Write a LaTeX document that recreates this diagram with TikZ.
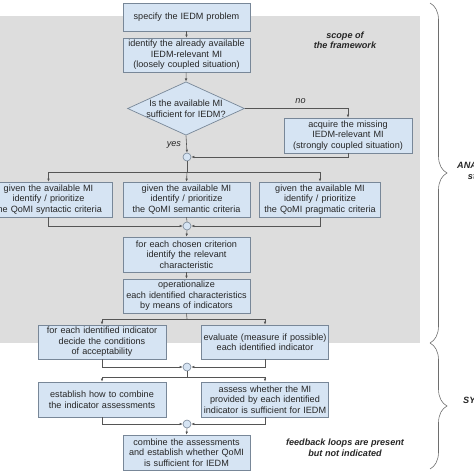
\documentclass[tikz,border=0pt]{standalone}
\usepackage{fontspec}
\setmainfont{Liberation Sans}
\usetikzlibrary{shapes.geometric,arrows.meta,decorations.pathreplacing}
\definecolor{boxfill}{RGB}{214,228,243}
\definecolor{boxline}{RGB}{120,135,152}
\definecolor{bggray}{RGB}{221,221,221}
\definecolor{linecol}{RGB}{85,85,85}
\definecolor{bracecol}{RGB}{110,110,110}
\begin{document}
\begin{tikzpicture}[x=1pt,y=-1pt,
  every node/.style={font=\fontsize{9.1}{10.5}\selectfont, text=black!85},
  procbox/.style={draw=boxline, fill=boxfill, line width=0.7pt, align=center, inner sep=0pt, minimum height=34pt, text width=#1},
  procbox/.default=127pt,
  decbox/.style={draw=boxline, fill=boxfill, line width=0.7pt, align=center, shape=diamond, aspect=2.19, inner sep=0pt},
  junc/.style={draw=boxline, fill=boxfill, line width=0.6pt, circle, minimum size=8pt, inner sep=0pt},
  conn/.style={draw=linecol, line width=0.6pt},
  arr/.style={conn, -{Latex[length=3pt,width=2.6pt]}},
  note/.style={font=\fontsize{9.1}{10.5}\selectfont\bfseries\itshape, align=center},
  lbl/.style={font=\fontsize{9.1}{10.5}\selectfont\itshape},
  stagebrace/.style={draw=bracecol, line width=0.6pt, decorate, decoration={brace, amplitude=17pt}}
]
\clip (0,0) rectangle (474,474);
\useasboundingbox (0,0) rectangle (474,474);
\fill[bggray] (-10,16) rectangle (420,343);

\node[note] (scope) at (345,40) {scope of\\the framework};

\node[procbox, minimum height=28pt] (b1) at (186.5,17) {specify the IEDM problem};
\node[procbox] (b2) at (186.5,55) {identify the already available\\IEDM-relevant MI\\(loosely coupled situation)};
\node[decbox] (dec) at (186,108.5) {Is the available MI\\sufficient for IEDM?};
\node[procbox, text width=128pt, minimum height=35pt] (acq) at (348,135.5) {acquire the missing\\IEDM-relevant MI\\(strongly coupled situation)};
\node[junc] (c1) at (187,157) {};
\coordinate (j1) at (187,172);

\node[procbox, minimum height=35pt] (syn) at (48.5,199.5) {given the available MI\\identify / prioritize\\the QoMI syntactic criteria};
\node[procbox, minimum height=35pt] (sem) at (186.5,199.5) {given the available MI\\identify / prioritize\\the QoMI semantic criteria};
\node[procbox, text width=121pt, minimum height=35pt] (prag) at (320,199.5) {given the available MI\\identify / prioritize\\the QoMI pragmatic criteria};
\node[junc] (c2) at (187,226) {};

\node[procbox, minimum height=35pt] (crit) at (186.5,254.5) {for each chosen criterion\\identify the relevant\\characteristic};
\node[procbox] (oper) at (186.5,296) {operationalize\\each identified characteristics\\by means of indicators};
\coordinate (j2) at (187,319);

\node[procbox, text width=128pt] (ind) at (102,342) {for each identified indicator\\decide the conditions\\of acceptability};
\node[procbox] (eval) at (265,342) {evaluate (measure if possible)\\each identified indicator};
\node[junc] (c3) at (187,367) {};
\coordinate (j3) at (187,377);

\node[procbox, text width=128pt, minimum height=35pt] (est) at (102,399.5) {establish how to combine\\the indicator assessments};
\node[procbox, minimum height=35pt] (ass) at (265,399.5) {assess whether the MI\\provided by each identified\\indicator is sufficient for IEDM};
\node[junc] (c4) at (187,424) {};

\node[procbox, minimum height=35pt] (fin) at (186.5,452.5) {combine the assessments\\and establish whether QoMI\\is sufficient for IEDM};

\node[note] (fb) at (345,447.5) {feedback loops are present\\but not indicated};

% connectors
\draw[arr] (b1) -- (b2);
\draw[arr] (b2) -- (dec.north);
\draw[arr] (dec.south) -- node[lbl, left=2pt, pos=0.55] (yes) {yes} (c1.north);
\draw[arr] (dec.east) -| node[lbl, above=1pt, pos=0.27] (no) {no} (acq.north);
\draw[arr] (acq.south) |- (c1.east);
\draw[conn] (c1.south) -- (j1);
\draw[arr] (j1) -| (syn.north);
\draw[arr] (j1) -| (prag.north);
\draw[arr] (j1) -- (sem.north);
\draw[arr] (syn.south) |- (c2.west);
\draw[arr] (prag.south) |- (c2.east);
\draw[conn] (sem.south) -- (c2.north);
\draw[arr] (c2.south) -- (crit.north);
\draw[arr] (crit) -- (oper);
\draw[conn] (oper.south) -- (j2);
\draw[arr] (j2) -| (ind.north);
\draw[arr] (j2) -| (eval.north);
\draw[arr] (ind.south) |- (c3.west);
\draw[arr] (eval.south) |- (c3.east);
\draw[conn] (c3.south) -- (j3);
\draw[arr] (j3) -| (est.north);
\draw[arr] (j3) -| (ass.north);
\draw[arr] (est.south) |- (c4.west);
\draw[arr] (ass.south) |- (c4.east);
\draw[arr] (c4.south) -- (fin.north);

% stage braces
\coordinate (ba1) at (430,3);
\coordinate (ba2) at (430,343);
\coordinate (bs2) at (430,469);
\draw[stagebrace] (ba1) -- (ba2);
\draw[stagebrace] (ba2) -- (bs2);
\node[note, anchor=west, inner sep=0pt] (ana) at (457,172) {ANALYSIS\\stage};
\node[note, anchor=west, inner sep=0pt] (synth) at (463,407) {SYNTHESIS\\stage};
\end{tikzpicture}
\end{document}
